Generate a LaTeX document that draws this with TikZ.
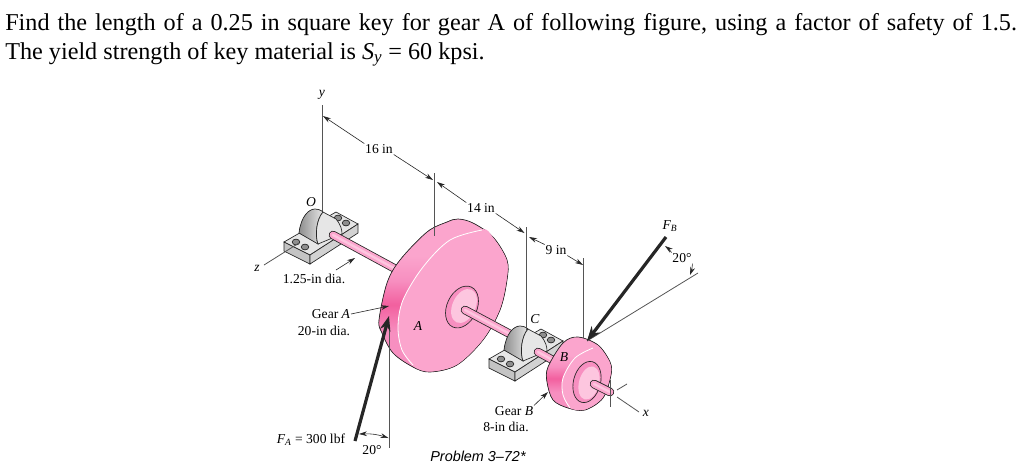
\documentclass[tikz,border=0pt]{standalone}
\usepackage{fontspec}
\usetikzlibrary{arrows.meta}
\setmainfont{Liberation Serif}
\newfontfamily\probfont{Liberation Sans}
\definecolor{gearface}{HTML}{FBA5CD}
\definecolor{gearrim}{HTML}{F78FC0}
\definecolor{geardeep}{HTML}{F2609F}
\definecolor{gearlight}{HTML}{FDC6DF}
\definecolor{steeltop}{HTML}{E6E6E6}
\definecolor{steelside}{HTML}{C4C4C4}
\definecolor{steeldark}{HTML}{8E8E8E}
\definecolor{dimgray}{HTML}{555555}
\pgfdeclareverticalshading{rimshade}{100bp}{color(0bp)=(gearrim); color(38bp)=(gearrim); color(47bp)=(geardeep); color(55bp)=(gearrim); color(63bp)=(gearface); color(100bp)=(gearface)}
\tikzset{
	title/.style = {anchor=base west, inner sep=0pt, font=\fontsize{18.15}{20}\selectfont},
	lab/.style = {inner sep=0.5pt, font=\fontsize{10.2}{12}\selectfont},
	dim/.style = {draw=black!85, line width=0.45pt, -{Stealth[length=6pt,width=3.6pt]}},
	refline/.style = {draw=dimgray, line width=0.6pt},
	force/.style = {draw=black!85, line width=2.4pt, -{Stealth[length=11pt,width=8pt]}},
	shaftout/.style = {draw=black!85, line width=6.4pt, line cap=round},
	shaftin/.style = {draw=gearface, line width=5.2pt, line cap=round},
	shaftglow/.style = {draw=gearlight, line width=1.8pt, line cap=round},
	edge line/.style = {draw=black!85, line width=0.5pt},
	bearing/.pic = {
		\filldraw[edge line, fill=steeltop] (284,242) -- (336,212) -- (358,224) -- (310,255) -- cycle;
		\filldraw[edge line, fill=steelside] (284,242) -- (310,255) -- (310,264) -- (284,251) -- cycle;
		\filldraw[edge line, fill=steelside!60!steeltop] (310,255) -- (358,224) -- (358,233) -- (310,264) -- cycle;
		\foreach \hx/\hy in {296/242, 305/247, 338/218, 346/223}
			\filldraw[edge line, fill=steeldark] (\hx,\hy) ellipse (3.8 and 2.9);
		\filldraw[edge line, left color=steeldark, right color=steeltop]
			(299,233) .. controls (301,216) and (309,209) .. (315,209)
			.. controls (320,209) and (323,212) .. (323,212)
			.. controls (316,220) and (315,236) .. (318,244) -- cycle;
		\filldraw[edge line, fill=steeltop]
			(323,212) -- (336,219) .. controls (341,225) and (342,230) .. (342,234)
			-- (318,244) .. controls (315,236) and (316,220) .. (323,212) -- cycle;
	}
}
\begin{document}
\begin{tikzpicture}[x=0.75pt, y=-0.75pt]
	\useasboundingbox (0,0) rectangle (1024,465);
	\node[title] (line1) at (5,30) {\spaceskip=5.99pt Find the length of a 0.25 in square key for gear A of following figure, using a factor of safety of 1.5.};
	\node[title] (line2) at (5,59) {The yield strength of key material is \textit{S}\textsubscript{\textit{y}} = 60 kpsi.};

	% bearing O and first part of shaft
	\pic at (0,0) {bearing};
	\coordinate (z0) at (264,265);
	\coordinate (z1) at (299,243);
	\draw[refline] (z0) -- (z1);
	\coordinate (s1) at (333,235);
	\coordinate (s2) at (425,285);
	\coordinate (s3) at (465,310);
	\coordinate (s4) at (525,342);
	\draw[shaftout] (s1) -- (s2);
	\draw[shaftin] (s1) -- (s2);
	\draw[shaftglow] (s1) -- (s2);

	% gear A
	\coordinate (gahub) at (462,307);
	\coordinate (gahubin) at (464,306);
	\filldraw[edge line, shading=rimshade]
		plot[smooth cycle, tension=0.55] coordinates {(458,219) (473,223) (493,237) (507,260) (507,280) (500,310) (483,340) (457,365) (430,372) (413,367) (393,353) (382,333) (379,320) (387,283) (400,260) (427,232) (447,222)};
	\fill[gearface]
		plot[smooth cycle, tension=0.55] coordinates {(482,229) (493,237.5) (506.5,260) (506.5,280) (499.5,310) (482.5,340) (457,364.5) (430,371.5) (413,366) (402,350) (398,327) (403,300) (423,267) (450,240)};
	\draw[white, line width=0.6pt]
		plot[smooth, tension=0.55] coordinates {(482,230) (450,240) (423,267) (403,300) (398,327) (402,350) (413,365)};
	\filldraw[edge line, fill=gearrim, rotate around={-25:(gahub)}] (gahub) ellipse (15 and 22);
	\fill[gearlight, rotate around={-25:(gahubin)}] (gahubin) ellipse (11.5 and 18);
	\draw[shaftout] (s3) -- (s4);
	\draw[shaftin] (s3) -- (s4);
	\draw[shaftglow] (s3) -- (s4);

	% bearing C and the rest of the shaft
	\pic at (205,117) {bearing};
	\coordinate (s5) at (538,352);
	\coordinate (s6) at (560,364);
	\draw[shaftout] (s5) -- (s6);
	\draw[shaftin] (s5) -- (s6);
	\draw[shaftglow] (s5) -- (s6);

	% gear B
	\coordinate (gbhub) at (587,382);
	\coordinate (gbhubin) at (589,383);
	\filldraw[edge line, shading=rimshade]
		plot[smooth cycle, tension=0.55] coordinates {(578,337) (598,345) (610,362) (611,375) (603,398) (585,410) (568,408) (553,400) (547,382) (548,367) (563,343)};
	\fill[gearface]
		plot[smooth cycle, tension=0.55] coordinates {(593,348) (598,345.5) (609.5,362) (610.5,375) (602.5,397.5) (585,409.5) (570,408) (563,395) (563,378) (575,358)};
	\draw[white, line width=0.6pt]
		plot[smooth, tension=0.55] coordinates {(593,348) (575,358) (563,378) (563,395) (570,408)};
	\filldraw[edge line, fill=gearrim, rotate around={-15:(gbhub)}] (gbhub) ellipse (13.5 and 21);
	\fill[gearlight, rotate around={-15:(gbhubin)}] (gbhubin) ellipse (10 and 17);
	\coordinate (s7) at (594,384);
	\coordinate (s8) at (610,392);
	\draw[shaftout] (s7) -- (s8);
	\draw[shaftin] (s7) -- (s8);
	\draw[shaftglow] (s7) -- (s8);

	% axes and reference lines
	\coordinate (yt) at (322,105);
	\coordinate (yb) at (322,211);
	\coordinate (at) at (434.5,173);
	\coordinate (ab) at (434.5,236);
	\coordinate (ct) at (526,227);
	\coordinate (cb) at (526,331);
	\coordinate (bt) at (583.5,258);
	\coordinate (bb) at (583.5,338);
	\draw[refline] (yt) -- (yb);
	\draw[refline] (at) -- (ab);
	\draw[refline] (ct) -- (cb);
	\draw[refline] (bt) -- (bb);

	% shaft end centre lines
	\coordinate (x0) at (617,397);
	\coordinate (x1) at (639,412);
	\coordinate (k0) at (617,390);
	\coordinate (k1) at (627,384);
	\coordinate (v0) at (610,380);
	\coordinate (v1) at (610,407);
	\draw[refline] (x0) -- (x1);
	\draw[refline] (k0) -- (k1);
	\draw[refline] (v0) -- (v1);

	% labels
	\node[lab] (ly) at (322,95) {\textit{y}};
	\node[lab] (lo) at (311,202) {\textit{O}};
	\node[lab] (lz) at (257,268) {\textit{z}};
	\node[lab] (lx) at (646,413) {\textit{x}};
	\node[lab] (lsixteen) at (379,149) {16 in};
	\node[lab] (lfourteen) at (481,208) {14 in};
	\node[lab] (lnine) at (556,250) {9 in};
	\node[lab] (lshaft) at (314,279) {1.25-in dia.};
	\node[lab] (lgeara) at (331,314) {Gear \textit{A}};
	\node[lab] (ladia) at (324,331) {20-in dia.};
	\node[lab] (lgearb) at (514,411) {Gear \textit{B}};
	\node[lab] (lbdia) at (506,427) {8-in dia.};
	\node[lab] (la) at (418,326) {\textit{A}};
	\node[lab] (lc) at (535,319) {\textit{C}};
	\node[lab] (lb) at (564,357) {\textit{B}};
	\node[lab] (lfa) at (311,440) {\textit{F\textsubscript{A}} = 300 lbf};
	\node[lab] (langa) at (372,450) {20°};
	\node[lab] (lfb) at (670,226) {\textit{F\textsubscript{B}}};
	\node[lab] (langb) at (682,258) {20°};
	\node[lab, font=\probfont\itshape\fontsize{10.8}{12}\selectfont] (lprob) at (478,456) {Problem 3–72*};

	% dimension arrows
	\coordinate (d16a) at (323,116);
	\coordinate (d16b) at (433,180);
	\coordinate (d14a) at (437,182);
	\coordinate (d14b) at (524.5,233);
	\coordinate (d9a) at (529,237);
	\coordinate (d9b) at (583,265);
	\coordinate (lshaftend) at (336,270);
	\coordinate (dshaft) at (355,258);
	\coordinate (dgeara) at (389,306);
	\coordinate (dgearb) at (548,392);
	\draw[dim] (lsixteen.north west) -- (d16a);
	\draw[dim] (lsixteen.south east) -- (d16b);
	\draw[dim] (lfourteen.north west) -- (d14a);
	\draw[dim] (lfourteen.south east) -- (d14b);
	\draw[dim] (lnine.north west) -- (d9a);
	\draw[dim] (lnine.south east) -- (d9b);
	\draw[dim] (lshaftend) -- (dshaft);
	\draw[dim] (lgeara.east) -- (dgeara);
	\draw[dim] (lgearb.north east) -- (dgearb);

	% forces
	\coordinate (fat) at (389,316);
	\coordinate (fab) at (355,441);
	\coordinate (fbt) at (587,341);
	\coordinate (fbb) at (666,237);
	\coordinate (vat) at (389.5,325);
	\coordinate (vab) at (389.5,448);
	\coordinate (rb) at (698,273);
	\draw[refline] (vat) -- (vab);
	\draw[refline] (fbt) -- (rb);
	\draw[force] (fab) -- (fat);
	\draw[force] (fbb) -- (fbt);
	\coordinate (a20l) at (359,434);
	\coordinate (a20r) at (388.5,438);
	\coordinate (b20t) at (665,246);
	\coordinate (b20b) at (690,275);
	\draw[dim, {Stealth[length=6pt,width=3.6pt]}-{Stealth[length=6pt,width=3.6pt]}] (a20l) to[bend left=10] (a20r);
	\draw[dim] (langb.north west) to[bend right=8] (b20t);
	\draw[dim] (langb.south east) to[bend left=8] (b20b);
\end{tikzpicture}
\end{document}
